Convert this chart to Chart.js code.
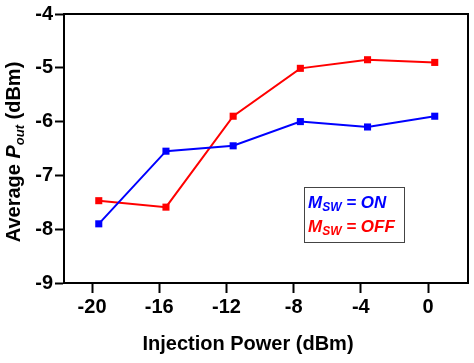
<!DOCTYPE html>
<html>
<head>
<meta charset="utf-8">
<script src="https://cdn.jsdelivr.net/npm/chart.js@4.4.0/dist/chart.umd.min.js"></script>
<style>
html,body{margin:0;padding:0;background:#fff;}
#wrap{width:474px;height:363px;position:relative;}
</style>
</head>
<body>
<div id="wrap"><canvas id="c" width="474" height="363"></canvas></div>
<script>
// Injection power (dBm) at which each point was measured
const injectionPower = [-19.6, -15.6, -11.6, -7.6, -3.6, 0.4];
// Average Pout (dBm)
const poutSwOn  = [-7.9, -6.55, -6.45, -6.0, -6.1, -5.9];
const poutSwOff = [-7.47, -7.59, -5.9, -5.01, -4.85, -4.9];
// Tick labels
const xTicks = [-20, -16, -12, -8, -4, 0];
const yTicks = [-9, -8, -7, -6, -5, -4];

const BLUE = '#0000ff';
const RED = '#ff0000';
const FONT = '"Liberation Sans", Arial, sans-serif';

const toPts = (ys) => ys.map((y, i) => ({x: injectionPower[i], y}));

const framePlugin = {
  id: 'frame',
  afterDraw(chart) {
    const ctx = chart.ctx, a = chart.chartArea;
    ctx.save();
    ctx.strokeStyle = '#000';
    ctx.lineWidth = 2;
    ctx.strokeRect(a.left, a.top, a.right - a.left, a.bottom - a.top);

    // X axis title
    ctx.fillStyle = '#000';
    ctx.font = 'bold 20px ' + FONT;
    ctx.textAlign = 'center';
    ctx.textBaseline = 'alphabetic';
    ctx.fillText('Injection Power (dBm)', (a.left + a.right) / 2 - 18, 350);

    // Y axis title with subscript
    const parts = [
      {t: 'Average ', f: 'bold 20px ' + FONT, dy: 0},
      {t: 'P', f: 'italic bold 20px ' + FONT, dy: 0},
      {t: 'out', f: 'italic bold 13px ' + FONT, dy: 4},
      {t: ' (dBm)', f: 'bold 20px ' + FONT, dy: 0}
    ];
    let total = 0;
    parts.forEach(p => { ctx.font = p.f; p.w = ctx.measureText(p.t).width; total += p.w; });
    ctx.translate(20, 152);
    ctx.rotate(-Math.PI / 2);
    let x = -total / 2;
    ctx.textAlign = 'left';
    parts.forEach(p => { ctx.font = p.f; ctx.fillText(p.t, x, p.dy); x += p.w; });
    ctx.restore();

    // Legend box
    ctx.save();
    ctx.strokeStyle = '#444';
    ctx.lineWidth = 1;
    ctx.fillStyle = '#fff';
    ctx.fillRect(304.5, 187.5, 100, 55);
    ctx.strokeRect(304.5, 187.5, 100, 55);
    const drawEntry = (y, label, color) => {
      ctx.fillStyle = color;
      ctx.textAlign = 'left';
      let xx = 308;
      ctx.font = 'italic bold 17px ' + FONT;
      ctx.fillText('M', xx, y); xx += ctx.measureText('M').width;
      ctx.font = 'italic bold 12px ' + FONT;
      ctx.fillText('SW', xx, y + 3); xx += ctx.measureText('SW').width;
      ctx.font = 'italic bold 17px ' + FONT;
      ctx.fillText(' = ' + label, xx, y);
    };
    drawEntry(208, 'ON', BLUE);
    drawEntry(232, 'OFF', RED);
    ctx.restore();
  }
};

new Chart(document.getElementById('c'), {
  type: 'line',
  data: {
    datasets: [
      {label: 'MSW = ON', data: toPts(poutSwOn), borderColor: BLUE, backgroundColor: BLUE,
       borderWidth: 2, pointStyle: 'rect', pointRadius: 5, pointBorderWidth: 0, tension: 0},
      {label: 'MSW = OFF', data: toPts(poutSwOff), borderColor: RED, backgroundColor: RED,
       borderWidth: 2, pointStyle: 'rect', pointRadius: 5, pointBorderWidth: 0, tension: 0}
    ]
  },
  options: {
    responsive: false,
    animation: false,
    events: [],
    layout: {padding: {left: 0, right: 6, top: 12, bottom: 0}},
    plugins: {legend: {display: false}, tooltip: {enabled: false}},
    scales: {
      x: {
        type: 'linear',
        min: -21.67,
        max: 2.38,
        afterBuildTicks: (s) => { s.ticks = xTicks.map(v => ({value: v})); },
        afterFit: (s) => { s.height = 80; },
        border: {display: true, color: '#000', width: 2},
        grid: {display: true, drawOnChartArea: false, drawTicks: true, tickLength: 10, tickWidth: 2, tickColor: '#000'},
        ticks: {color: '#000', font: {family: FONT, size: 20, weight: 'bold'}, padding: 2, maxRotation: 0,
                callback: (v) => String(v)}
      },
      y: {
        type: 'linear',
        min: -9,
        max: -4,
        afterBuildTicks: (s) => { s.ticks = yTicks.map(v => ({value: v})); },
        afterFit: (s) => { s.width = 64; },
        border: {display: true, color: '#000', width: 2},
        grid: {display: true, drawOnChartArea: false, drawTicks: true, tickLength: 9, tickWidth: 2, tickColor: '#000'},
        ticks: {color: '#000', font: {family: FONT, size: 20, weight: 'bold'}, padding: 2,
                callback: (v) => String(v)}
      }
    }
  },
  plugins: [framePlugin]
});
</script>
</body>
</html>
